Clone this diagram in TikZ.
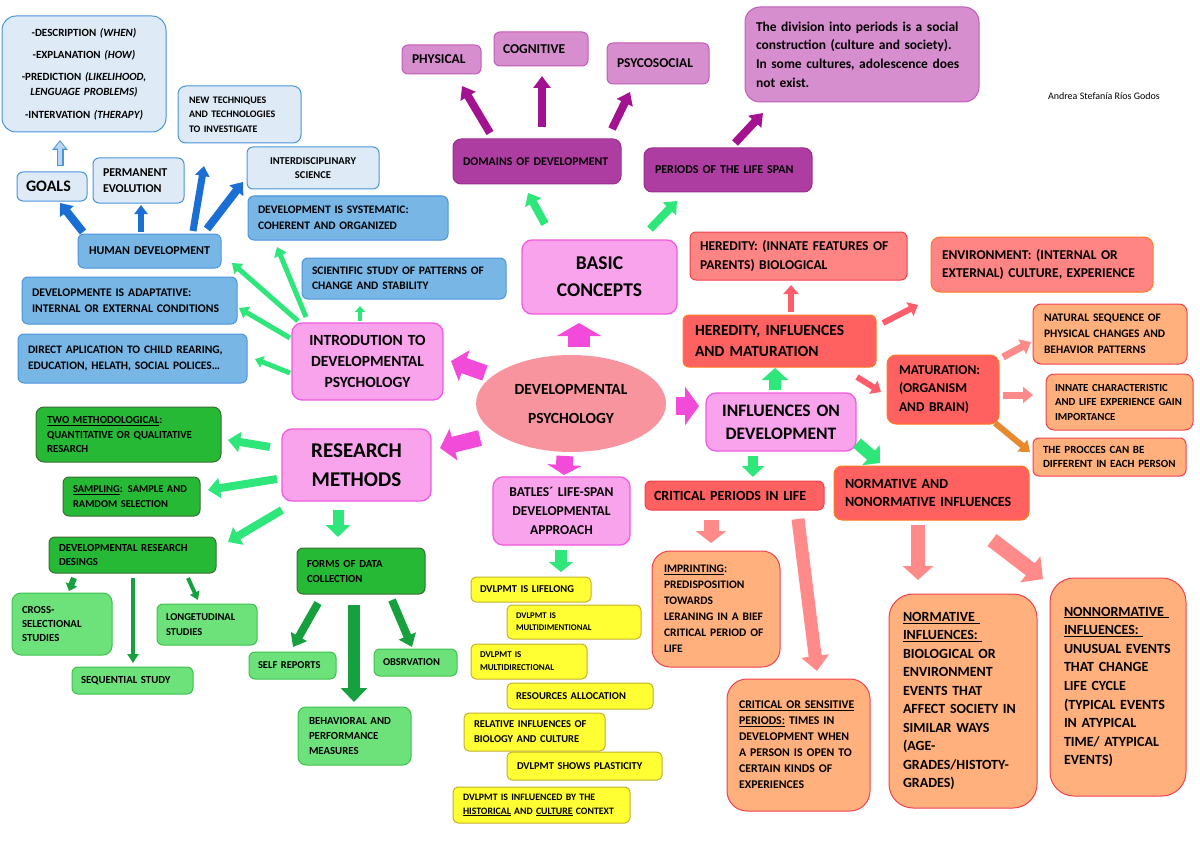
\documentclass[tikz,border=0pt]{standalone}
\usepackage{fontspec}
\setmainfont{Carlito}
\usetikzlibrary{arrows.meta,shapes.geometric}
\newcommand{\fsz}[2]{\fontsize{#1}{#2}\selectfont}
\definecolor{azulclaro}{HTML}{DEEBF7}
\definecolor{azulmedio}{HTML}{78B6E6}
\definecolor{azulborde}{HTML}{4A94DC}
\definecolor{azulflecha}{HTML}{1B6FD4}
\definecolor{azulhueco}{HTML}{B9D7F2}
\definecolor{rosa}{HTML}{F9A3EC}
\definecolor{rosaborde}{HTML}{F25ADF}
\definecolor{fucsia}{HTML}{F24BDA}
\definecolor{verdeflecha}{HTML}{2EE67A}
\definecolor{morado}{HTML}{AE3DA2}
\definecolor{moradoborde}{HTML}{9B2F90}
\definecolor{lila}{HTML}{D78ECE}
\definecolor{lilaborde}{HTML}{C15AB8}
\definecolor{moradoflecha}{HTML}{A3138F}
\definecolor{verdeoscuro}{HTML}{25B935}
\definecolor{verdeborde}{HTML}{3D6B34}
\definecolor{verdeclaro}{HTML}{6DE17A}
\definecolor{verdeclaroborde}{HTML}{3EC04E}
\definecolor{verdeflechaosc}{HTML}{16A03E}
\definecolor{amarillo}{HTML}{FFFF33}
\definecolor{amarilloborde}{HTML}{C1B22C}
\definecolor{salmon}{HTML}{F7949E}
\definecolor{rojo}{HTML}{FF6060}
\definecolor{naranjaborde}{HTML}{FF7A1C}
\definecolor{rojoborde}{HTML}{F2404F}
\definecolor{rojoclaro}{HTML}{FF8585}
\definecolor{durazno}{HTML}{FFB07C}
\definecolor{rojoflecha}{HTML}{FF5D6B}
\definecolor{salmonflecha}{HTML}{FF8A8A}
\definecolor{naranjaflecha}{HTML}{E8892E}

\tikzset{
  caja/.style={rounded corners=6pt,line width=1pt,inner xsep=10pt,inner ysep=2pt,outer sep=0pt,align=left},
  cajaazul/.style={caja,fill=azulclaro,draw=azulborde},
  cajaazulmed/.style={caja,fill=azulmedio,draw=azulborde},
  cajarosa/.style={caja,fill=rosa,draw=rosaborde,line width=1.3pt,rounded corners=10pt,align=center},
  cajamorada/.style={caja,fill=morado,draw=moradoborde},
  cajalila/.style={caja,fill=lila,draw=lilaborde},
  cajaverde/.style={caja,fill=verdeoscuro,draw=verdeborde},
  cajaverdecl/.style={caja,fill=verdeclaro,draw=verdeclaroborde},
  cajaamarilla/.style={caja,fill=amarillo,draw=amarilloborde,inner xsep=9pt,rounded corners=5pt},
  cajaroja/.style={caja,fill=rojo,draw=naranjaborde},
  cajarojacl/.style={caja,fill=rojoclaro,draw=rojoborde},
  cajadurazno/.style={caja,fill=durazno,draw=rojoborde},
  blk/.style n args={3}{line width=#1,-{Triangle[length=#2,width=#3]}},
}

\begin{document}
\begin{tikzpicture}[x=1pt,y=-1pt]
\useasboundingbox (0,0) rectangle (1200,848);

% ---------- introduction branch
\node[cajaazul,text width=144pt,minimum height=116pt,align=center,rounded corners=14pt,font={\bfseries\fsz{11}{15}}] (goalsList) at (84,74)
 {-DESCRIPTION \textit{(WHEN)}\\[7pt]-EXPLANATION \textit{(HOW)}\\[7pt]-PREDICTION \textit{(LIKELIHOOD,}\\\textit{LENGUAGE PROBLEMS)}\\[8pt]-INTERVATION \textit{(THERAPY)}};
\node[cajaazul,text width=52pt,inner xsep=9pt,minimum height=29pt,font={\bfseries\fsz{16}{18}}] (goals) at (52,186.5) {GOALS};
\node[cajaazul,text width=71pt,minimum height=45pt,font={\bfseries\fsz{12}{16}}] (permanent) at (138.5,180.5) {PERMANENT\\EVOLUTION};
\node[cajaazul,text width=101pt,inner xsep=11pt,minimum height=57pt,rounded corners=8pt,font={\bfseries\fsz{10}{14.5}}] (newTech) at (239.5,114.5) {NEW TECHNIQUES\\AND TECHNOLOGIES\\TO INVESTIGATE};
\node[cajaazul,text width=112pt,minimum height=42pt,align=center,font={\bfseries\fsz{10.5}{14}}] (interdisc) at (313,168) {INTERDISCIPLINARY\\SCIENCE};
\node[cajaazulmed,text width=123pt,minimum height=34pt,align=center,font={\bfseries\fsz{12}{14}}] (human) at (149.5,251) {HUMAN DEVELOPMENT};
\node[cajaazulmed,text width=180pt,minimum height=44pt,font={\bfseries\fsz{11.5}{16}}] (systematic) at (348,218) {DEVELOPMENT IS SYSTEMATIC:\\COHERENT AND ORGANIZED};
\node[cajaazulmed,text width=184pt,minimum height=41pt,font={\bfseries\fsz{11.5}{15.5}}] (scientific) at (404,278.5) {SCIENTIFIC STUDY OF PATTERNS OF\\CHANGE AND STABILITY};
\node[cajaazulmed,text width=195pt,minimum height=47pt,font={\bfseries\fsz{11.7}{16}}] (adaptative) at (129.5,300.5) {DEVELOPMENTE IS ADAPTATIVE:\\INTERNAL OR EXTERNAL CONDITIONS};
\node[cajaazulmed,text width=209pt,minimum height=49pt,font={\bfseries\fsz{11.5}{16}}] (directApp) at (132.5,358.5) {DIRECT APLICATION TO CHILD REARING,\\EDUCATION, HELATH, SOCIAL POLICES…};
\node[cajarosa,text width=131pt,minimum height=77pt,font={\bfseries\fsz{15.5}{21.3}}] (intro) at (367.5,361.5) {INTRODUTION TO\\DEVELOPMENTAL\\PSYCHOLOGY};

\draw[azulborde,blk={7pt}{10pt}{15pt}] ([shift={(8,-6)}]goals.north) -- ([shift={(-24,8)}]goalsList.south);
\draw[azulhueco,blk={4pt}{7pt}{10.5pt},shorten >=1.6pt,shorten <=1pt] ([shift={(8,-6)}]goals.north) -- ([shift={(-24,8)}]goalsList.south);
\draw[azulflecha,blk={8pt}{11pt}{17pt}] ([shift={(5,-2)}]human.north west) -- ([shift={(8,2)}]goals.south);
\draw[azulflecha,blk={6pt}{9pt}{13pt}] ([shift={(-8.5,-2)}]human.north) -- ([shift={(2.5,2)}]permanent.south);
\draw[azulflecha,blk={7pt}{10pt}{14pt}] ([shift={(-28,-3)}]human.north east) -- ([shift={(-35.5,23)}]newTech.south);
\draw[azulflecha,blk={8pt}{11pt}{17pt}] ([shift={(-14,-5)}]human.north east) -- ([shift={(-4,14)}]interdisc.west);

\draw[verdeflecha,blk={5pt}{9pt}{13pt}] ([shift={(6,-2)}]intro.north west) -- ([shift={(11,12)}]human.east);
\draw[verdeflecha,blk={5pt}{9pt}{13pt}] ([shift={(14,-6)}]intro.north west) -- ([shift={(29,7)}]systematic.south west);
\draw[verdeflecha,blk={4pt}{6pt}{10pt}] ([shift={(-7.5,-2)}]intro.north) -- ([shift={(-44,7)}]scientific.south);
\draw[verdeflecha,blk={5pt}{9pt}{13pt}] ([shift={(-2,-23.5)}]intro.west) -- ([shift={(2,7.5)}]adaptative.east);
\draw[verdeflecha,blk={5pt}{8pt}{12pt}] ([shift={(-2,11.5)}]intro.west) -- ([shift={(8,0.5)}]directApp.east);

% ---------- research methods
\node[cajarosa,text width=129pt,minimum height=72pt,font={\bfseries\fsz{21}{29}}] (research) at (356.5,465) {RESEARCH\\METHODS};
\node[cajaverde,text width=163pt,inner xsep=11pt,minimum height=55pt,rounded corners=8pt,font={\bfseries\fsz{10.8}{14.5}}] (twoMeth) at (128.5,434.5) {\underline{TWO METHODOLOGICAL}:\\QUANTITATIVE OR QUALITATIVE\\RESARCH};
\node[cajaverde,text width=117pt,minimum height=39pt,font={\bfseries\fsz{10.5}{15}}] (sampling) at (131.5,496.5) {\underline{SAMPLING}: SAMPLE AND\\RAMDOM SELECTION};
\node[cajaverde,text width=147pt,minimum height=36pt,font={\bfseries\fsz{10.8}{14.7}}] (devDesigns) at (132.5,555) {DEVELOPMENTAL RESEARCH\\DESINGS};
\node[cajaverde,text width=108pt,minimum height=46pt,font={\bfseries\fsz{10.8}{15}}] (forms) at (361,571) {FORMS OF DATA\\COLLECTION};
\node[cajaverdecl,text width=80pt,minimum height=62pt,rounded corners=9pt,font={\bfseries\fsz{10.8}{14.4}}] (cross) at (62,624) {CROSS-\\SELECTIONAL\\STUDIES};
\node[cajaverdecl,text width=82pt,inner xsep=9pt,minimum height=41pt,font={\bfseries\fsz{10.5}{14.7}}] (longit) at (207,624.5) {LONGETUDINAL\\STUDIES};
\node[cajaverdecl,text width=103pt,inner xsep=9pt,minimum height=27pt,font={\bfseries\fsz{10.8}{13}}] (sequential) at (132.5,680.5) {SEQUENTIAL STUDY};
\node[cajaverdecl,text width=69pt,inner xsep=9pt,minimum height=27pt,font={\bfseries\fsz{10.5}{13}}] (selfReports) at (292.5,665.5) {SELF REPORTS};
\node[cajaverdecl,text width=65pt,inner xsep=9pt,minimum height=27pt,font={\bfseries\fsz{10.5}{13}}] (observ) at (415.5,662.5) {OBSRVATION};
\node[cajaverdecl,text width=91pt,inner xsep=11pt,minimum height=58pt,rounded corners=8pt,font={\bfseries\fsz{10.8}{14.7}}] (behavioral) at (354.5,736) {BEHAVIORAL AND\\PERFORMANCE\\MEASURES};

\draw[verdeflecha,blk={8pt}{12pt}{20pt}] ([shift={(-12,-18)}]research.west) -- ([shift={(7,5.5)}]twoMeth.east);
\draw[verdeflecha,blk={8pt}{12pt}{20pt}] ([shift={(-5,14)}]research.west) -- ([shift={(8,-6.5)}]sampling.east);
\draw[verdeflecha,blk={8pt}{12pt}{20pt}] ([shift={(0,9)}]research.south west) -- ([shift={(12,5)}]devDesigns.north east);
\draw[verdeflecha,blk={11pt}{12pt}{24pt}] ([shift={(-18.5,9)}]research.south) -- ([shift={(-23,-11)}]forms.north);

\draw[verdeflechaosc,blk={6pt}{7pt}{12pt}] ([shift={(25,5)}]devDesigns.south west) -- ([shift={(7,-2)}]cross.north);
\draw[verdeflechaosc,blk={4pt}{9pt}{11pt}] ([shift={(0.5,5)}]devDesigns.south) -- ([shift={(0.5,-4)}]sequential.north);
\draw[verdeflechaosc,blk={4pt}{8pt}{10pt}] ([shift={(-28,5)}]devDesigns.south east) -- ([shift={(-9,-4)}]longit.north);
\draw[verdeflechaosc,blk={8pt}{12pt}{18pt}] ([shift={(21,9)}]forms.south west) -- ([shift={(0.5,-5)}]selfReports.north);
\draw[verdeflechaosc,blk={12pt}{14pt}{26pt}] ([shift={(-7,11)}]forms.south) -- ([shift={(-0.5,-5)}]behavioral.north);
\draw[verdeflechaosc,blk={8pt}{12pt}{18pt}] ([shift={(-33,6)}]forms.south east) -- ([shift={(-3.5,-2)}]observ.north);

% ---------- centre and basic concepts
\node[ellipse,fill=salmon,minimum width=190pt,minimum height=97pt,inner sep=0pt,align=center,font={\bfseries\fsz{15.5}{29}}] (devpsy) at (571,403.5) {DEVELOPMENTAL\\PSYCHOLOGY};
\node[cajarosa,text width=135pt,minimum height=74pt,font={\bfseries\fsz{19.5}{27}}] (basic) at (599.5,277) {BASIC\\CONCEPTS};
\node[cajamorada,text width=148pt,minimum height=45pt,rounded corners=8pt,font={\bfseries\fsz{11.8}{14}}] (domains) at (537,161.5) {DOMAINS OF DEVELOPMENT};
\node[cajamorada,text width=146pt,inner xsep=11pt,minimum height=44pt,rounded corners=8pt,font={\bfseries\fsz{12}{14}}] (periods) at (728,170) {PERIODS OF THE LIFE SPAN};
\node[cajalila,text width=59pt,minimum height=29pt,font={\bfseries\fsz{13.5}{16}}] (physical) at (441.5,59.5) {PHYSICAL};
\node[cajalila,text width=76pt,inner xsep=9pt,minimum height=34pt,font={\bfseries\fsz{13.5}{16}}] (cognitive) at (541,49) {COGNITIVE};
\node[cajalila,text width=82pt,minimum height=41pt,font={\bfseries\fsz{13.5}{16}}] (psycosocial) at (658,63.5) {PSYCOSOCIAL};
\node[cajalila,text width=212pt,inner xsep=11pt,minimum height=95pt,rounded corners=15pt,font={\bfseries\fsz{13.5}{18.7}}] (note) at (862,54.5) {The division into periods is a social\\construction (culture and society).\\In some cultures, adolescence does\\not exist.};
\node[font=\fsz{10}{12}] (author) at (1104,96) {Andrea Stefanía Ríos Godos};

\draw[verdeflecha,blk={8pt}{11pt}{18pt}] ([shift={(23,-16)}]basic.north west) -- ([shift={(-9,9)}]domains.south);
\draw[verdeflecha,blk={8pt}{11pt}{18pt}] ([shift={(-27,-11)}]basic.north east) -- ([shift={(33,9)}]periods.south west);

\draw[moradoflecha,blk={8pt}{12pt}{17pt}] ([shift={(37,-6)}]domains.north west) -- ([shift={(20.5,12)}]physical.south);
\draw[moradoflecha,blk={8pt}{12pt}{17pt}] ([shift={(5,-12)}]domains.north) -- ([shift={(1,10)}]cognitive.south);
\draw[moradoflecha,blk={8pt}{12pt}{17pt}] ([shift={(-9,-10)}]domains.north east) -- ([shift={(23,8)}]psycosocial.south west);
\draw[moradoflecha,blk={8pt}{12pt}{17pt}] ([shift={(7,-5)}]periods.north) -- ([shift={(18,11)}]note.south west);

% ---------- life-span approach
\node[cajarosa,text width=117pt,minimum height=68pt,font={\bfseries\fsz{13.5}{19}}] (batles) at (561.5,511) {BATLES´ LIFE-SPAN\\DEVELOPMENTAL\\APPROACH};
\node[cajaamarilla,text width=102pt,minimum height=25pt,font={\bfseries\fsz{10.5}{13}}] (lifelong) at (531,589.5) {DVLPMT IS LIFELONG};
\node[cajaamarilla,text width=116pt,minimum height=34pt,font={\bfseries\fsz{8.7}{11.7}}] (multidim) at (574,622) {DVLPMT IS\\MULTIDIMENTIONAL};
\node[cajaamarilla,text width=98pt,minimum height=35pt,font={\bfseries\fsz{9}{13}}] (multidir) at (529,661.5) {DVLPMT IS\\MULTIDIRECTIONAL};
\node[cajaamarilla,text width=128pt,minimum height=26pt,font={\bfseries\fsz{10.5}{13}}] (resources) at (580,696) {RESOURCES ALLOCATION};
\node[cajaamarilla,text width=121pt,inner xsep=10pt,minimum height=38pt,font={\bfseries\fsz{10.5}{15}}] (relative) at (534.5,732) {RELATIVE INFLUENCES OF\\BIOLOGY AND CULTURE};
\node[cajaamarilla,text width=135pt,inner xsep=10pt,minimum height=28pt,font={\bfseries\fsz{10.5}{13}}] (plasticity) at (584.5,766) {DVLPMT SHOWS PLASTICITY};
\node[cajaamarilla,text width=157pt,inner xsep=10pt,minimum height=36pt,font={\bfseries\fsz{9.8}{14}}] (historical) at (541.5,805) {DVLPMT IS INFLUENCED BY THE\\\underline{HISTORICAL} AND \underline{CULTURE} CONTEXT};
\draw[verdeflecha,blk={12pt}{10pt}{24pt}] ([shift={(-0.5,5)}]batles.south) -- ([shift={(-30,-5)}]lifelong.north east);

% ---------- influences on development
\node[cajarosa,text width=130pt,minimum height=58pt,font={\bfseries\fsz{17.5}{23}}] (influences) at (781,422) {INFLUENCES ON\\DEVELOPMENT};
\node[cajaroja,text width=169pt,inner xsep=12pt,minimum height=52pt,font={\bfseries\fsz{15.5}{21}}] (heredityMat) at (779.5,341) {HEREDITY, INFLUENCES\\AND MATURATION};
\node[cajarojacl,text width=197pt,minimum height=48pt,font={\bfseries\fsz{13.5}{18.5}}] (heredity) at (798.5,256) {HEREDITY: (INNATE FEATURES OF\\PARENTS) BIOLOGICAL};
\node[cajarojacl,draw=naranjaborde,text width=200pt,inner xsep=11pt,minimum height=55pt,rounded corners=9pt,font={\bfseries\fsz{13.5}{18.3}}] (environment) at (1042,264.5) {ENVIRONMENT: (INTERNAL OR\\EXTERNAL) CULTURE, EXPERIENCE};
\node[cajaroja,text width=88pt,inner xsep=12pt,minimum height=69pt,rounded corners=9pt,font={\bfseries\fsz{13.5}{18.5}}] (maturation) at (943,389.5) {MATURATION:\\(ORGANISM\\AND BRAIN)};
\node[cajadurazno,text width=132pt,inner xsep=11pt,minimum height=60pt,rounded corners=8pt,font={\bfseries\fsz{11.5}{16}}] (naturalSeq) at (1110,334) {NATURAL SEQUENCE OF\\PHYSICAL CHANGES AND\\BEHAVIOR PATTERNS};
\node[cajadurazno,text width=129pt,inner xsep=9pt,minimum height=56pt,rounded corners=8pt,font={\bfseries\fsz{10.8}{14.5}}] (innate) at (1119.5,402) {INNATE CHARACTERISTIC\\AND LIFE EXPERIENCE GAIN\\IMPORTANCE};
\node[cajadurazno,text width=133pt,minimum height=38pt,font={\bfseries\fsz{11}{14}}] (procces) at (1109.5,457) {THE PROCCES CAN BE\\DIFFERENT IN EACH PERSON};
\node[cajaroja,draw=rojoborde,text width=161pt,inner xsep=9pt,minimum height=29pt,font={\bfseries\fsz{14}{16}}] (critical) at (734.5,495.5) {CRITICAL PERIODS IN LIFE};
\node[cajaroja,text width=173pt,inner xsep=11pt,minimum height=54pt,rounded corners=8pt,font={\bfseries\fsz{14}{18.5}}] (normNon) at (931.5,493) {NORMATIVE AND\\NONORMATIVE INFLUENCES};
\node[cajadurazno,text width=104pt,inner xsep=12pt,minimum height=116pt,rounded corners=18pt,font={\bfseries\fsz{11.5}{16}}] (imprinting) at (716,609) {\underline{IMPRINTING}:\\PREDISPOSITION\\TOWARDS\\LERANING IN A BIEF\\CRITICAL PERIOD OF\\LIFE};
\node[cajadurazno,text width=119pt,inner xsep=12pt,minimum height=132pt,rounded corners=20pt,font={\bfseries\fsz{11.8}{16}}] (criticalSens) at (798.5,745) {\underline{CRITICAL OR SENSITIVE}\\\underline{PERIODS:} TIMES IN\\DEVELOPMENT WHEN\\A PERSON IS OPEN TO\\CERTAIN KINDS OF\\EXPERIENCES};
\node[cajadurazno,text width=120pt,inner xsep=14pt,minimum height=214pt,rounded corners=24pt,font={\bfseries\fsz{14}{18.5}}] (normative) at (963,701) {\underline{NORMATIVE\ }\\\underline{INFLUENCES:\ }\\BIOLOGICAL OR\\ENVIRONMENT\\EVENTS THAT\\AFFECT SOCIETY IN\\SIMILAR WAYS\\(AGE-\\GRADES/HISTOTY-\\GRADES)};
\node[cajadurazno,text width=108pt,inner xsep=14pt,minimum height=218pt,rounded corners=24pt,font={\bfseries\fsz{14}{18.6}}] (nonnormative) at (1118,687) {\underline{NONNORMATIVE\ }\\\underline{INFLUENCES:\ }\\UNUSUAL EVENTS\\THAT CHANGE\\LIFE CYCLE\\(TYPICAL EVENTS\\IN ATYPICAL\\TIME/ ATYPICAL\\EVENTS)};

\draw[verdeflecha,blk={12pt}{12pt}{26pt}] ([shift={(-6,-3)}]influences.north) -- ([shift={(-4.5,1)}]heredityMat.south);
\draw[verdeflecha,blk={10pt}{11pt}{22pt}] ([shift={(-28,5)}]influences.south) -- ([shift={(18.5,-4)}]critical.north);
\draw[verdeflecha,blk={12pt}{12pt}{26pt}] ([shift={(1,-8)}]influences.south east) -- ([shift={(46,-3)}]normNon.north west);

\draw[rojoflecha,blk={6pt}{9pt}{15pt}] ([shift={(11.5,-3)}]heredityMat.north) -- ([shift={(-7.5,5)}]heredity.south);
\draw[rojoflecha,blk={6pt}{9pt}{15pt}] ([shift={(7,-18)}]heredityMat.east) -- ([shift={(-13,13)}]environment.south west);
\draw[rojoflecha,blk={6pt}{9pt}{15pt}] ([shift={(-19,10)}]heredityMat.south east) -- ([shift={(-6,2.5)}]maturation.west);

\draw[salmonflecha,blk={7pt}{10pt}{16pt}] ([shift={(4,2)}]maturation.north east) -- ([shift={(-2,8)}]naturalSeq.west);
\draw[salmonflecha,blk={7pt}{10pt}{16pt}] ([shift={(4,5.5)}]maturation.east) -- ([shift={(-13,-7)}]innate.west);
\draw[naranjaflecha,blk={6pt}{10pt}{15pt}] ([shift={(-4,-1)}]maturation.south east) -- ([shift={(-3,-5)}]procces.west);

\draw[salmonflecha,blk={15pt}{12pt}{30pt}] ([shift={(-23.5,10)}]critical.south) -- ([shift={(-5,-8)}]imprinting.north);
\draw[salmonflecha,blk={13pt}{15pt}{27pt}] ([shift={(-26,9)}]critical.south east) -- ([shift={(18.5,-8)}]criticalSens.north);
\draw[salmonflecha,blk={14pt}{14pt}{30pt}] ([shift={(-13.5,5)}]normNon.south) -- ([shift={(-45,-14)}]normative.north);
\draw[salmonflecha,blk={15pt}{16pt}{32pt}] ([shift={(-37,20)}]normNon.south east) -- ([shift={(-7,1)}]nonnormative.north west);

% ---------- arrows out of the centre
\draw[fucsia,blk={22pt}{13pt}{44pt}] ([shift={(8,-56.5)}]devpsy.center) -- ([shift={(-20.5,9)}]basic.south);
\draw[fucsia,blk={16pt}{14pt}{32pt}] ([shift={(-86,-30.5)}]devpsy.center) -- ([shift={(8,-0.5)}]intro.east);
\draw[fucsia,blk={16pt}{14pt}{32pt}] ([shift={(-91,34.5)}]devpsy.center) -- ([shift={(9,-17)}]research.east);
\draw[fucsia,blk={17pt}{10pt}{34pt}] ([shift={(-6,52.5)}]devpsy.center) -- ([shift={(2.5,-2)}]batles.north);
\draw[fucsia,blk={18pt}{14pt}{38pt}] ([shift={(105,2.5)}]devpsy.center) -- ([shift={(-7,-16)}]influences.west);
\end{tikzpicture}
\end{document}
